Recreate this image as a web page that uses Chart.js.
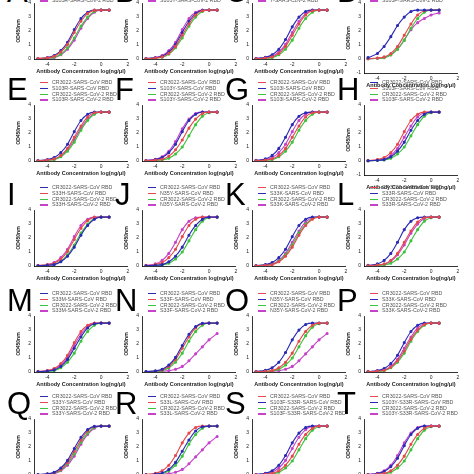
<!DOCTYPE html>
<html><head><meta charset="utf-8">
<script src="https://cdn.jsdelivr.net/npm/chart.js@4"></script>
<style>
body{margin:0;width:474px;height:474px;overflow:hidden;background:#fff;position:relative;font-family:"Liberation Sans",Arial,sans-serif}
.let{position:absolute;font-size:31px;line-height:31px;color:#000}
.leg{position:absolute;font-size:5.3px;line-height:5.8px;color:#555;white-space:nowrap}
.leg span{display:inline-block;width:8px;height:1.3px;vertical-align:middle;margin-right:4px}
canvas{position:absolute}
</style></head><body>
<script>
const xPts=[-4.7,-4,-3.5,-3,-2.5,-2,-1.5,-1,-0.5,0,0.6];
const early=[0.1,0.4,0.9,1.6,2.4,3.0,3.4,3.5,3.5,3.5,3.5];
const s25=[0.05,0.15,0.4,0.9,1.7,2.6,3.2,3.45,3.5,3.5,3.5];
const s23=[0.04,0.12,0.3,0.7,1.4,2.3,3.0,3.4,3.5,3.5,3.5];
const s22=[0.03,0.1,0.25,0.6,1.2,2.1,2.9,3.35,3.5,3.5,3.5];
const s21=[0.03,0.08,0.2,0.5,1.05,1.9,2.7,3.25,3.48,3.5,3.5];
const s20=[0.02,0.07,0.15,0.4,0.9,1.7,2.5,3.15,3.45,3.5,3.5];
const s19=[0.02,0.06,0.12,0.35,0.8,1.5,2.35,3.0,3.4,3.5,3.5];
const s18=[0.02,0.05,0.1,0.3,0.7,1.35,2.2,2.9,3.35,3.5,3.5];
const s16=[0.02,0.04,0.08,0.2,0.5,1.0,1.8,2.6,3.2,3.45,3.5];
const weakH=[0.02,0.05,0.1,0.3,0.7,1.35,2.1,2.6,2.9,3.15,3.3];
const weak=[0.0,0.02,0.05,0.1,0.2,0.4,0.8,1.3,1.8,2.3,2.75];
const xTicks=[-4,-2,0,2];
const panelLetters=["A","B","C","D","E","F","G","H","I","J","K","L","M","N","O","P","Q","R","S","T"];
const panelMutants=["S103R","S103Y","Y","S103F","S103R","S103Y","S103I","S103F","S33H","N35Y","S33K","S33R","S33M","S33F","N35Y","S33K","S33Y","S33L","S103F-S33R","S103Y-S33R"];
const panelColors=[
["red","blue","green","mag"],["red","blue","green","mag"],["red","blue","green","mag"],["blue","red","green","mag"],
["red","blue","green","mag"],["red","blue","green","mag"],["red","blue","green","mag"],["blue","red","green","mag"],
["blue","red","green","mag"],["blue","red","green","mag"],["red","blue","green","mag"],["red","blue","green","mag"],
["blue","red","green","mag"],["blue","red","green","mag"],["red","blue","green","mag"],["red","blue","green","mag"],
["blue","red","green","mag"],["blue","red","green","mag"],["red","blue","green","mag"],["red","blue","green","mag"]];
const panelSeries=[
[s21,s22,s19,s18],[s20,s21,s19,s22],[s20,s23,s18,s21],[early,s20,s18,weakH],
[s20,s22,s18,s19],[s19,s22,s16,s23],[s20,s25,s18,s22],[s18,s22,s16,s20],
[s18,s21,s19,s22],[s18,s22,s16,s25],[s18,s22,s19,s20],[s20,s25,s16,s19],
[s20,s22,s18,s21],[s21,s20,s18,weak],[s18,s23,s16,weak],[s19,s22,s18,s20],
[s21,s20,s19,s18],[s20,s23,s18,weak],[s18,s23,s16,s21],[s18,s22,s16,s23]];
const yMinNeg=[3,7];
const COL={red:"#e5484d",blue:"#2a2ab5",green:"#3cc33c",mag:"#c542c9"};
const colX=[34,142,252,364], rowY4=[2,104,209,315,418];
const PW=95, PH=57, YW=18, XH=20, PT=4, PR=4;
panelLetters.forEach((L,i)=>{
  const c=i%4, r=Math.floor(i/4), x0=colX[c], y4=rowY4[r];
  const let_=document.createElement('div');let_.className='let';let_.textContent=L;
  let_.style.left=(x0-27)+'px';let_.style.top=(y4-(r===0?26:30))+'px';document.body.appendChild(let_);
  const m=panelMutants[i];
  const names=["CR3022-SARS-CoV RBD",m+"-SARS-CoV RBD","CR3022-SARS-CoV-2 RBD",m+"-SARS-CoV-2 RBD"];
  const lg=document.createElement('div');lg.className='leg';lg.style.left=(x0+6)+'px';lg.style.top=(y4-(r===0?21:24))+'px';
  lg.innerHTML=names.map((n,k)=>'<div><span style="background:'+COL[panelColors[i][k]]+'"></span>'+n+'</div>').join('');
  document.body.appendChild(lg);
  const neg=yMinNeg.includes(i);
  const cv=document.createElement('canvas');
  const W=YW+PW+PR, H=PT+PH+XH+(neg?14:0);
  cv.width=W;cv.height=H;cv.style.left=(x0-YW)+'px';cv.style.top=(y4-PT)+'px';
  document.body.appendChild(cv);
  new Chart(cv,{type:'line',data:{datasets:panelSeries[i].map((s,k)=>({
    data:s.map((v,j)=>({x:xPts[j],y:v})),borderColor:COL[panelColors[i][k]],backgroundColor:COL[panelColors[i][k]],
    borderWidth:1.1,pointRadius:1,tension:0.4,cubicInterpolationMode:'monotone'}))},
   options:{responsive:false,animation:false,events:[],layout:{padding:{top:PT,right:PR,left:0,bottom:0}},
    plugins:{legend:{display:false},tooltip:{enabled:false}},
    scales:{x:{type:'linear',min:-5,max:2,afterBuildTicks:a=>{a.ticks=xTicks.map(v=>({value:v}))},
      afterFit:s=>{s.height=XH},grid:{display:false,tickLength:2},border:{color:'#000',width:0.8},
      ticks:{font:{size:5},color:'#222',padding:1},
      title:{display:true,text:'Antibody Concentration log(ng/μl)',font:{size:5.5,weight:'bold'},color:'#222',padding:{top:2}}},
     y:{min:neg?-1:0,max:4,afterFit:s=>{s.width=YW},grid:{display:false,tickLength:2},border:{color:'#000',width:0.8},
      ticks:{stepSize:1,font:{size:5},color:'#222',padding:1},
      title:{display:true,text:'OD450nm',font:{size:5,weight:'bold'},color:'#222',padding:0}}}}});
});
</script>
</body></html>
